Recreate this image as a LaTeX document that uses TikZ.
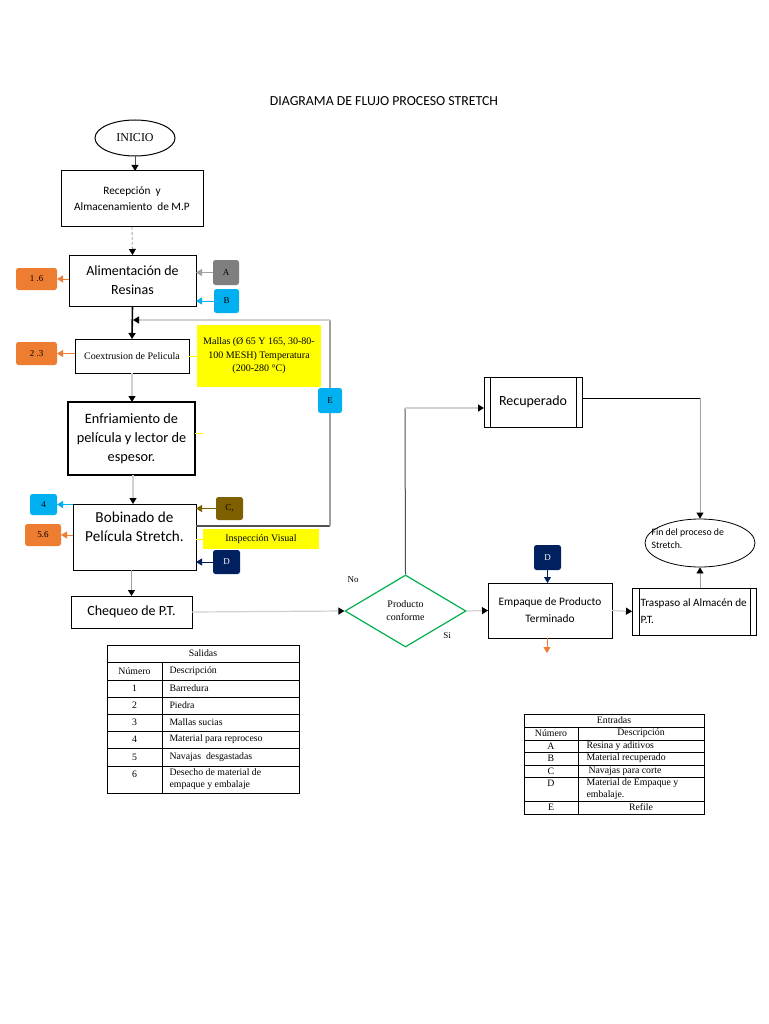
\documentclass[tikz,border=0pt]{standalone}
\usepackage{fontspec}
\setmainfont{Liberation Serif}
\newfontfamily\calib{Carlito}
\usetikzlibrary{shapes.geometric,arrows.meta}
\definecolor{orB}{HTML}{ED7D31}
\definecolor{blB}{HTML}{00B0F0}
\definecolor{grA}{HTML}{7F7F7F}
\definecolor{brC}{HTML}{7F6000}
\definecolor{nvD}{HTML}{002060}
\definecolor{yel}{HTML}{FFFF00}
\definecolor{grn}{HTML}{00B050}
\definecolor{lg}{HTML}{D0D0D0}
\definecolor{mg}{HTML}{A0A0A0}
\definecolor{dg}{HTML}{505050}
\tikzset{
  box/.style={draw=black,line width=1pt,align=center,inner sep=0pt,outer sep=0pt,rectangle},
  badge/.style={rectangle,rounded corners=2.5pt,inner sep=0pt,outer sep=0pt,font=\fontsize{9}{10}\selectfont},
  note/.style={rectangle,fill=yel,inner sep=0pt,outer sep=0pt,align=center,font=\fontsize{10}{13.5}\selectfont},
  tip/.style={-{Triangle[width=7pt,length=6pt]}},
  btip/.style={-{Triangle[width=7pt,length=6pt,color=black]}},
  ctxt/.style={font=\calib\fontsize{14}{19}\selectfont,align=center},
  stxt/.style={font=\fontsize{9.8}{11}\selectfont},
  etxt/.style={font=\fontsize{9.8}{11}\selectfont},
  tline/.style={line width=0.8pt}
}
\begin{document}
\begin{tikzpicture}[x=1pt,y=-1pt]
\useasboundingbox (0,0) rectangle (768,1024);
\fill[white] (0,0) rectangle (768,1024);

% title
\node[font=\calib\fontsize{13.8}{16}\selectfont] (title) at (384,101) {DIAGRAMA DE FLUJO PROCESO STRETCH};

% main column
\node[ellipse,draw,line width=1pt,minimum width=80,minimum height=36,inner sep=0pt,font=\fontsize{12}{14}\selectfont] (inicio) at (135,138) {INICIO};
\node[box,minimum width=142,minimum height=56,font=\calib\fontsize{11.3}{16}\selectfont] (recep) at (132,199) {Recepción\ \ y\\Almacenamiento\ \ de M.P};
\node[box,minimum width=127,minimum height=51,ctxt] (alim) at (132.5,280.5) {Alimentación de\\Resinas};
\node[box,minimum width=114,minimum height=34,font=\fontsize{10}{12}\selectfont] (coex) at (132,356) {Coextrusion de Pelicula};
\node[box,line width=1.8pt,minimum width=127,minimum height=73,font=\calib\fontsize{14.3}{19}\selectfont,align=center] (enfr) at (131.5,438.5) {Enfriamiento de\\película y lector de\\espesor.};
\node[box,minimum width=123,minimum height=66] (bobi) at (134.5,537) {};
\node[font=\calib\fontsize{15.2}{19}\selectfont,align=center] (bobitxt) at (134.5,527) {Bobinado de\\Película Stretch.};
\node[box,minimum width=121,minimum height=32,ctxt] (cheq) at (131.5,612) {Chequeo de P.T.};

% badges left
\node[badge,fill=orB,minimum width=41,minimum height=22] (b16) at (36.5,279) {1 .6};
\node[badge,fill=orB,minimum width=41,minimum height=23] (b23) at (36.5,353.5) {2 .3};
\node[badge,fill=blB,minimum width=27,minimum height=21] (b4) at (43.5,504.5) {4};
\node[badge,fill=orB,minimum width=36,minimum height=22] (b56) at (43,535) {5.6};

% badges right
\node[badge,fill=grA,minimum width=26,minimum height=25] (bA) at (226,272.5) {A};
\node[badge,fill=blB,minimum width=25,minimum height=24] (bB) at (226.5,301) {B};
\node[badge,fill=brC,minimum width=27,minimum height=23] (bC) at (229.5,508.5) {C,};
\node[badge,fill=nvD,text=white,minimum width=27,minimum height=24] (bD1) at (226.5,562) {D};
\node[badge,fill=nvD,text=white,minimum width=27,minimum height=25] (bD2) at (547.5,557.5) {D};

% yellow notes
\node[note,minimum width=124,minimum height=62] (mallas) at (259,356) {Mallas (Ø 65 Y 165, 30-80-\\100 MESH) Temperatura\\(200-280 °C)};
\node[note,minimum width=116,minimum height=20] (insp) at (261,539) {Inspección Visual};

% decision and right side
\node[diamond,draw=grn,line width=1.2pt,minimum width=121,minimum height=72,aspect=1.68,inner sep=0pt,align=center,font=\fontsize{10}{13}\selectfont] (dec) at (405.5,611) {Producto\\conforme};
\node[font=\fontsize{9}{10}\selectfont] (no) at (353,580) {No};
\node[font=\fontsize{9}{10}\selectfont] (si) at (447,636) {Si};
\node[box,minimum width=98,minimum height=50,font=\calib\fontsize{14}{16}\selectfont] (recu) at (533,402) {Recuperado};
\draw[line width=1pt] ([xshift=6]recu.north west) -- ([xshift=6]recu.south west);
\draw[line width=1pt] ([xshift=-6]recu.north east) -- ([xshift=-6]recu.south east);
\node[ellipse,draw,line width=0.8pt,minimum width=110,minimum height=48,inner sep=0pt] (fin) at (700,543) {};
\node[font=\calib\fontsize{9.8}{13}\selectfont,align=left,anchor=west] (fintxt) at (648,538.5) {Fin del proceso de\\Stretch.};
\node[box,minimum width=124,minimum height=55,font=\calib\fontsize{11.4}{17}\selectfont] (empa) at (550,610.5) {Empaque de Producto\\Terminado};
\node[box,minimum width=124,minimum height=47] (tras) at (694,611.5) {};
\draw[line width=1pt] ([xshift=7]tras.north west) -- ([xshift=7]tras.south west);
\draw[line width=1pt] ([xshift=-6]tras.north east) -- ([xshift=-6]tras.south east);
\node[font=\calib\fontsize{11.2}{17}\selectfont,align=left,anchor=west] (trastxt) at (637,611) {Traspaso al Almacén de\\P.T.};

% main connectors
\draw[btip,dg,line width=0.8pt] (inicio.south) -- (inicio.south |- recep.north);
\draw[btip,mg,densely dashed,line width=0.8pt] (recep.south) -- (alim.north);
\draw[btip,black,line width=1.6pt] (alim.south) -- (coex.north);
\draw[btip,lg,line width=1.2pt] (coex.south) -- (coex.south |- enfr.north);
\draw[btip,lg,line width=1.2pt] (enfr.south -| 133,0) -- (133,504);
\draw[btip,mg,line width=0.8pt] (bobi.south -| cheq.north) -- (cheq.north);
\draw[btip,lg,line width=1.2pt] (cheq.east) -- (dec.west);

% feedback loop via E
\coordinate (fb1) at (330,526);
\coordinate (fb2) at (330,320);
\coordinate (fb3) at (133,320);
\draw[dg,line width=1.5pt] (bobi.east |- fb1) -- (fb1);
\draw[mg,line width=1.5pt] (fb1) -- (fb2);
\draw[btip,lg,line width=1.2pt] (fb2) -- (fb3);
\node[badge,fill=blB,minimum width=24,minimum height=25] (bE) at (330,400.5) {E};

% outputs left
\draw[tip,orB,line width=0.8pt] (alim.west |- b16) -- (b16.east);
\draw[tip,orB,line width=0.8pt] (coex.west |- b23) -- (b23.east);
\draw[tip,blB,line width=0.8pt] (bobi.west |- b4.east) -- (b4.east);
\draw[tip,orB,line width=0.8pt] (bobi.west |- b56.east) -- (b56.east);

% inputs right
\draw[tip,mg,line width=0.8pt] (bA.west) -- (alim.east |- bA.west);
\draw[tip,blB,line width=0.8pt] (bB.west) -- (alim.east |- bB.west);
\draw[tip,brC,line width=0.8pt] (bC.west) -- (bobi.east |- bC.west);
\draw[tip,nvD,line width=0.8pt] (bD1.west) -- (bobi.east |- bD1.west);
\draw[tip,nvD,line width=0.8pt] (bD2.south) -- (empa.north -| bD2.south);

% yellow links
\draw[yel,line width=1pt] (coex.east) -- (mallas.west |- coex.east);
\coordinate (ystub) at (203,433);
\draw[yel,line width=1pt] (enfr.east |- ystub) -- (ystub);
\draw[yel,line width=1pt] (bobi.east |- insp.west) -- (insp.west);

% right side connectors
\coordinate (up1) at (405,408);
\draw[dg,line width=1pt] (dec.north) -- (up1);
\draw[btip,lg,line width=1.2pt] (up1) -- (recu.west |- up1);
\coordinate (rr) at (700,398);
\draw[black,line width=1pt] (recu.east |- rr) -- (rr);
\draw[btip,mg,line width=0.8pt] (rr) -- (fin.north);
\draw[btip,lg,line width=1.2pt] (dec.east) -- (empa.west);
\draw[btip,lg,line width=1.2pt] (empa.east) -- (tras.west);
\draw[btip,mg,line width=0.8pt] (tras.north -| fin.south) -- (fin.south);
\coordinate (oend) at (547,653);
\draw[tip,orB,line width=0.8pt] (empa.south -| oend) -- (oend);

% Salidas table
\draw[tline] (107,645) rectangle (299,793);
\foreach \yy in {662,680,697,714,731,748,766} \draw[tline] (107,\yy) -- (299,\yy);
\draw[tline] (162,662) -- (162,793);
\node[stxt] (st) at (203,653.5) {Salidas};
\node[stxt] (sh1) at (134.5,671) {Número};
\node[stxt,anchor=west] (sh2) at (166,671) {Descripción};
\node[stxt] (s1n) at (134.5,688.5) {1};
\node[stxt,anchor=west] (s1d) at (166,688.5) {Barredura};
\node[stxt] (s2n) at (134.5,705.5) {2};
\node[stxt,anchor=west] (s2d) at (166,705.5) {Piedra};
\node[stxt] (s3n) at (134.5,722.5) {3};
\node[stxt,anchor=west] (s3d) at (166,722.5) {Mallas sucias};
\node[stxt] (s4n) at (134.5,739.5) {4};
\node[stxt,anchor=west] (s4d) at (166,739.5) {Material para reproceso};
\node[stxt] (s5n) at (134.5,757) {5};
\node[stxt,anchor=west] (s5d) at (166,757) {Navajas\ \ desgastadas};
\node[stxt] (s6n) at (134.5,774) {6};
\node[stxt,anchor=west,align=left,font=\fontsize{9.8}{12}\selectfont] (s6d) at (166,779.5) {Desecho de material de\\empaque y embalaje};

% Entradas table
\draw[tline] (524,714) rectangle (704,814);
\foreach \yy in {727,740,752,765,777,801} \draw[tline] (524,\yy) -- (704,\yy);
\draw[tline] (578,727) -- (578,814);
\node[etxt] (et) at (614,720.5) {Entradas};
\node[etxt] (eh1) at (551,733.5) {Número};
\node[etxt] (eh2) at (641,733.5) {Descripción};
\node[etxt] (ean) at (551,746) {A};
\node[etxt,anchor=west] (ead) at (583,746) {Resina y aditivos};
\node[etxt] (ebn) at (551,758.5) {B};
\node[etxt,anchor=west] (ebd) at (583,758.5) {Material recuperado};
\node[etxt] (ecn) at (551,771) {C};
\node[etxt,anchor=west] (ecd) at (585,771) {Navajas para corte};
\node[etxt] (edn) at (551,783.5) {D};
\node[etxt,anchor=west,align=left,font=\fontsize{9.8}{12}\selectfont] (edd) at (583,789) {Material de Empaque y\\embalaje.};
\node[etxt] (een) at (551,807.5) {E};
\node[etxt] (eed) at (641,807.5) {Refile};
\end{tikzpicture}
\end{document}
